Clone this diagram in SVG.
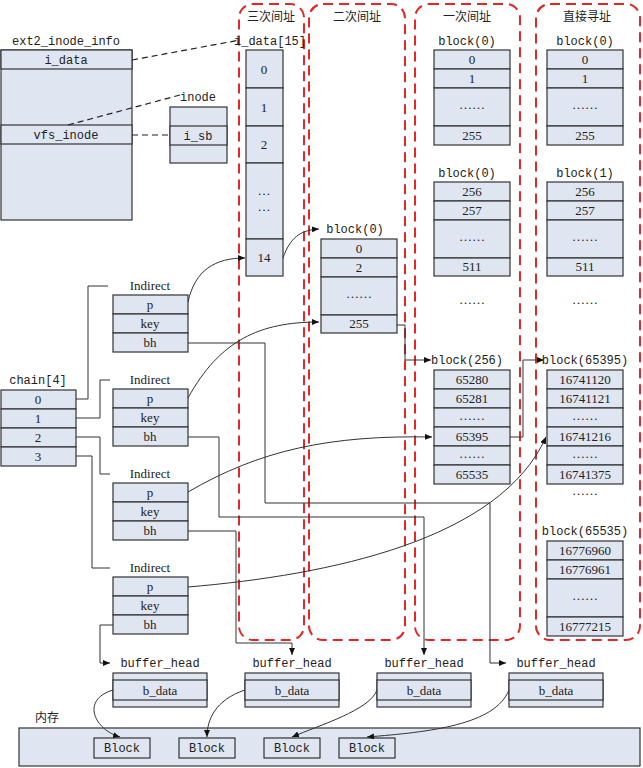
<svg xmlns="http://www.w3.org/2000/svg" width="643" height="768" viewBox="0 0 643 768">
<style>
.b{fill:#dfe6f1;stroke:#333;stroke-width:1.2}
.t{font-family:"Liberation Serif","Noto Sans CJK SC",serif;font-size:13px;text-anchor:middle;fill:#222}
.m{font-family:"Liberation Mono","Noto Sans CJK SC",monospace;font-size:12px;text-anchor:middle;fill:#222}
.c{font-family:"Noto Sans CJK SC",sans-serif;font-size:12px;text-anchor:middle;fill:#222}
.r{fill:none;stroke:#e02828;stroke-width:2;stroke-dasharray:10,6}
.l{fill:none;stroke:#333;stroke-width:1}
.a{fill:none;stroke:#333;stroke-width:1;marker-end:url(#ar)}
.d{fill:none;stroke:#222;stroke-width:1.2;stroke-dasharray:6,4}
</style>
<defs><marker id="ar" markerWidth="8" markerHeight="8" refX="7" refY="3" orient="auto" markerUnits="userSpaceOnUse"><path d="M0,0L7,3L0,6z" fill="#111"/></marker></defs>
<rect width="643" height="768" fill="#fff"/>
<g id="regions">
<rect class="r" x="239" y="4" width="65" height="636" rx="14"/>
<rect class="r" x="309" y="4" width="96" height="636" rx="14"/>
<rect class="r" x="415" y="4" width="105" height="636" rx="14"/>
<rect class="r" x="536" y="4" width="104" height="636" rx="14"/>
<text class="c" x="271" y="21">三次间址</text>
<text class="c" x="357" y="21">二次间址</text>
<text class="c" x="467" y="21">一次间址</text>
<text class="c" x="587" y="21">直接寻址</text>
</g>
<g id="ext2_inode_info">
<text class="m" x="66" y="45">ext2_inode_info</text>
<rect class="b" x="1" y="50" width="131" height="170"/>
<rect class="b" x="1" y="50" width="131" height="19"/>
<rect class="b" x="1" y="125" width="131" height="19"/>
<text class="m" x="66" y="64">i_data</text>
<text class="m" x="66" y="139">vfs_inode</text>
</g>
<g id="inode">
<text class="m" x="198" y="101">inode</text>
<rect class="b" x="170" y="107" width="57" height="56"/>
<rect class="b" x="170" y="126" width="57" height="19"/>
<text class="m" x="198" y="140">i_sb</text>
</g>
<g id="i_data">
<text class="m" x="270" y="45">i_data[15]</text>
<rect class="b" x="246" y="50" width="37" height="38"/><text class="t" x="264" y="74">0</text>
<rect class="b" x="246" y="88" width="37" height="38"/><text class="t" x="264" y="112">1</text>
<rect class="b" x="246" y="126" width="37" height="37"/><text class="t" x="264" y="149">2</text>
<rect class="b" x="246" y="163" width="37" height="76"/><text class="t" x="264" y="195">…</text><text class="t" x="264" y="211">…</text>
<rect class="b" x="246" y="239" width="37" height="37"/><text class="t" x="264" y="262">14</text>
</g>
<g id="block2">
<text class="m" x="355" y="233">block(0)</text>
<rect class="b" x="321" y="239" width="76" height="19"/><text class="t" x="359" y="253">0</text>
<rect class="b" x="321" y="258" width="76" height="19"/><text class="t" x="359" y="272">2</text>
<rect class="b" x="321" y="277" width="76" height="38"/><text class="t" x="359" y="298">……</text>
<rect class="b" x="321" y="315" width="76" height="18"/><text class="t" x="359" y="328">255</text>
</g>
<g id="block1a">
<text class="m" x="467" y="45">block(0)</text>
<rect class="b" x="434" y="50" width="76" height="19"/><text class="t" x="472" y="64">0</text>
<rect class="b" x="434" y="69" width="76" height="19"/><text class="t" x="472" y="83">1</text>
<rect class="b" x="434" y="88" width="76" height="38"/><text class="t" x="472" y="109">……</text>
<rect class="b" x="434" y="126" width="76" height="19"/><text class="t" x="472" y="140">255</text>
</g>
<g id="block1b">
<text class="m" x="467" y="177">block(0)</text>
<rect class="b" x="434" y="182" width="76" height="19"/><text class="t" x="472" y="196">256</text>
<rect class="b" x="434" y="201" width="76" height="19"/><text class="t" x="472" y="215">257</text>
<rect class="b" x="434" y="220" width="76" height="38"/><text class="t" x="472" y="241">……</text>
<rect class="b" x="434" y="258" width="76" height="18"/><text class="t" x="472" y="271">511</text>
<text class="t" x="472" y="304">……</text>
</g>
<g id="block1c">
<text class="m" x="467" y="364">block(256)</text>
<rect class="b" x="434" y="370" width="76" height="19"/><text class="t" x="472" y="384">65280</text>
<rect class="b" x="434" y="389" width="76" height="19"/><text class="t" x="472" y="403">65281</text>
<rect class="b" x="434" y="408" width="76" height="19"/><text class="t" x="472" y="420">……</text>
<rect class="b" x="434" y="427" width="76" height="19"/><text class="t" x="472" y="441">65395</text>
<rect class="b" x="434" y="446" width="76" height="19"/><text class="t" x="472" y="458">……</text>
<rect class="b" x="434" y="465" width="76" height="19"/><text class="t" x="472" y="479">65535</text>
</g>
<g id="blockd0">
<text class="m" x="585" y="45">block(0)</text>
<rect class="b" x="547" y="50" width="76" height="19"/><text class="t" x="585" y="64">0</text>
<rect class="b" x="547" y="69" width="76" height="19"/><text class="t" x="585" y="83">1</text>
<rect class="b" x="547" y="88" width="76" height="38"/><text class="t" x="585" y="109">……</text>
<rect class="b" x="547" y="126" width="76" height="19"/><text class="t" x="585" y="140">255</text>
</g>
<g id="blockd1">
<text class="m" x="585" y="177">block(1)</text>
<rect class="b" x="547" y="182" width="76" height="19"/><text class="t" x="585" y="196">256</text>
<rect class="b" x="547" y="201" width="76" height="19"/><text class="t" x="585" y="215">257</text>
<rect class="b" x="547" y="220" width="76" height="38"/><text class="t" x="585" y="241">……</text>
<rect class="b" x="547" y="258" width="76" height="18"/><text class="t" x="585" y="271">511</text>
<text class="t" x="585" y="304">……</text>
</g>
<g id="blockd2">
<text class="m" x="585" y="364">block(65395)</text>
<rect class="b" x="547" y="370" width="76" height="19"/><text class="t" x="585" y="384">16741120</text>
<rect class="b" x="547" y="389" width="76" height="19"/><text class="t" x="585" y="403">16741121</text>
<rect class="b" x="547" y="408" width="76" height="19"/><text class="t" x="585" y="420">……</text>
<rect class="b" x="547" y="427" width="76" height="19"/><text class="t" x="585" y="441">16741216</text>
<rect class="b" x="547" y="446" width="76" height="19"/><text class="t" x="585" y="458">……</text>
<rect class="b" x="547" y="465" width="76" height="19"/><text class="t" x="585" y="479">16741375</text>
<text class="t" x="585" y="495">……</text>
</g>
<g id="blockd3">
<text class="m" x="585" y="535">block(65535)</text>
<rect class="b" x="547" y="541" width="76" height="19"/><text class="t" x="585" y="555">16776960</text>
<rect class="b" x="547" y="560" width="76" height="19"/><text class="t" x="585" y="574">16776961</text>
<rect class="b" x="547" y="579" width="76" height="38"/><text class="t" x="585" y="600">……</text>
<rect class="b" x="547" y="617" width="76" height="19"/><text class="t" x="585" y="631">16777215</text>
</g>
<g id="chain">
<text class="m" x="38" y="384">chain[4]</text>
<rect class="b" x="1" y="390" width="75" height="19"/><text class="t" x="38" y="404">0</text>
<rect class="b" x="1" y="409" width="75" height="19"/><text class="t" x="38" y="423">1</text>
<rect class="b" x="1" y="428" width="75" height="19"/><text class="t" x="38" y="442">2</text>
<rect class="b" x="1" y="447" width="75" height="19"/><text class="t" x="38" y="461">3</text>
</g>
<g id="indirect1">
<text class="t" x="150" y="290">Indirect</text>
<rect class="b" x="113" y="295" width="75" height="19"/><text class="t" x="150" y="309">p</text>
<rect class="b" x="113" y="314" width="75" height="19"/><text class="t" x="150" y="328">key</text>
<rect class="b" x="113" y="333" width="75" height="19"/><text class="t" x="150" y="347">bh</text>
</g>
<g id="indirect2">
<text class="t" x="150" y="384">Indirect</text>
<rect class="b" x="113" y="389" width="75" height="19"/><text class="t" x="150" y="403">p</text>
<rect class="b" x="113" y="408" width="75" height="19"/><text class="t" x="150" y="422">key</text>
<rect class="b" x="113" y="427" width="75" height="19"/><text class="t" x="150" y="441">bh</text>
</g>
<g id="indirect3">
<text class="t" x="150" y="478">Indirect</text>
<rect class="b" x="113" y="483" width="75" height="19"/><text class="t" x="150" y="497">p</text>
<rect class="b" x="113" y="502" width="75" height="19"/><text class="t" x="150" y="516">key</text>
<rect class="b" x="113" y="521" width="75" height="19"/><text class="t" x="150" y="535">bh</text>
</g>
<g id="indirect4">
<text class="t" x="150" y="572">Indirect</text>
<rect class="b" x="113" y="577" width="75" height="19"/><text class="t" x="150" y="591">p</text>
<rect class="b" x="113" y="596" width="75" height="19"/><text class="t" x="150" y="610">key</text>
<rect class="b" x="113" y="615" width="75" height="19"/><text class="t" x="150" y="629">bh</text>
</g>
<g id="buffer_heads">
<text class="m" x="160" y="667">buffer_head</text>
<rect class="b" x="113" y="673" width="94" height="34"/><rect class="b" x="113" y="680" width="94" height="20"/><text class="t" x="160" y="695">b_data</text>
<text class="m" x="292" y="667">buffer_head</text>
<rect class="b" x="245" y="673" width="94" height="34"/><rect class="b" x="245" y="680" width="94" height="20"/><text class="t" x="292" y="695">b_data</text>
<text class="m" x="424" y="667">buffer_head</text>
<rect class="b" x="377" y="673" width="94" height="34"/><rect class="b" x="377" y="680" width="94" height="20"/><text class="t" x="424" y="695">b_data</text>
<text class="m" x="556" y="667">buffer_head</text>
<rect class="b" x="509" y="673" width="94" height="34"/><rect class="b" x="509" y="680" width="94" height="20"/><text class="t" x="556" y="695">b_data</text>
</g>
<g id="memory">
<text class="c" x="47" y="722">内存</text>
<rect class="b" x="19" y="728" width="621" height="38"/>
<rect class="b" x="94" y="738" width="56" height="20"/><text class="m" x="122" y="752">Block</text>
<rect class="b" x="179" y="738" width="56" height="20"/><text class="m" x="207" y="752">Block</text>
<rect class="b" x="264" y="738" width="56" height="20"/><text class="m" x="292" y="752">Block</text>
<rect class="b" x="339" y="738" width="56" height="20"/><text class="m" x="367" y="752">Block</text>
</g>
<g id="connectors">
<path class="d" d="M132,60L240,40"/>
<path class="d" d="M68,125L180,95"/>
<path class="d" d="M132,135L170,135"/>
<path class="l" d="M76,399H88V286H108"/>
<path class="l" d="M76,418H100V380H110"/>
<path class="l" d="M76,437H100V474H110"/>
<path class="l" d="M76,456H92V568H110"/>
<path class="a" d="M188,302C195,270 215,258 245,258"/>
<path class="a" d="M283,258C290,238 300,230 319,229"/>
<path class="a" d="M188,398C220,340 260,322 319,322"/>
<path class="l" d="M397,325H405V360"/><path class="a" d="M405,360H431"/>
<path class="a" d="M188,492C260,450 330,435 432,437"/>
<path class="l" d="M510,437H523V360"/><path class="a" d="M523,360H544"/>
<path class="a" d="M188,587C330,575 500,540 546,437"/>
<path class="l" d="M188,343H265V503H490V663"/><path class="a" d="M490,663H506"/>
<path class="l" d="M188,437H219V517H424"/><path class="a" d="M424,517V655"/>
<path class="l" d="M188,531H236V643H292"/><path class="a" d="M292,643V655"/>
<path class="l" d="M113,625H100V663"/><path class="a" d="M100,663H110"/>
<path class="a" d="M113,690C80,700 95,730 120,737"/>
<path class="a" d="M245,690C215,700 207,720 207,737"/>
<path class="a" d="M377,690C370,710 320,725 292,737"/>
<path class="a" d="M509,690C495,725 430,732 367,737"/>
</g>
</svg>
